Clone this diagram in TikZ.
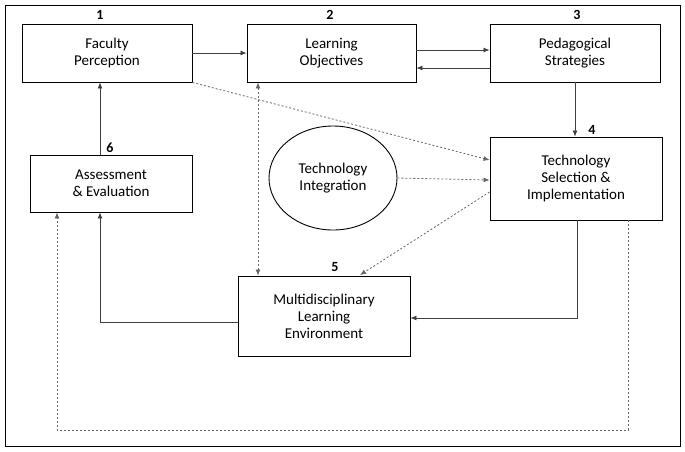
\documentclass[tikz,border=0pt]{standalone}
\usepackage{fontspec}
\setmainfont{Carlito}
\usetikzlibrary{shapes.geometric,arrows.meta}
\begin{document}
\begin{tikzpicture}[x=1pt,y=-1pt,
  box/.style={draw,line width=0.9pt,align=center,font=\fontsize{15}{17}\selectfont,inner sep=0pt},
  num/.style={font=\bfseries\fontsize{14}{16}\selectfont},
  arr/.style={-{Latex[length=6pt,width=5pt]},line width=0.8pt,draw=black!75},
  darr/.style={arr,dashed,dash pattern=on 2pt off 2pt,draw=black!60}]
\useasboundingbox (0,0) rectangle (685,451);
\draw[line width=1pt] (5,5) rectangle (680,446);
\node[box,minimum width=170pt,minimum height=58pt] (f) at (107,53) {Faculty\\Perception};
\node[box,minimum width=169pt,minimum height=58pt] (l) at (331.5,53) {Learning\\Objectives};
\node[box,minimum width=170pt,minimum height=58pt] (p) at (575,53) {Pedagogical\\Strategies};
\node[box,minimum width=172pt,minimum height=83pt] (t) at (576,178.5) {Technology\\Selection \&\\Implementation};
\node[box,minimum width=162pt,minimum height=57pt] (a) at (111,183.5) {Assessment\\\& Evaluation};
\node[box,minimum width=172pt,minimum height=80pt] (m) at (324,316) {Multidisciplinary\\Learning\\Environment};
\node[box,ellipse,minimum width=128pt,minimum height=104pt] (e) at (333,178) {Technology\\Integration};
\node[num] (n1) at (100,15) {1};
\node[num] (n2) at (330,15) {2};
\node[num] (n3) at (577,15) {3};
\node[num] (n4) at (592,130) {4};
\node[num] (n6) at (110,148) {6};
\node[num] (n5) at (335,267) {5};
\draw[arr] (f.east |- 0,53) -- (l.west |- 0,53);
\draw[arr] (l.east |- 0,50) -- (p.west |- 0,50);
\draw[arr] (p.west |- 0,68) -- (l.east |- 0,68);
\draw[arr] (p.south) -- (t.north -| p.south);
\draw[darr] (f.south east) -- (t.west |- 0,160);
\draw[darr] (e.east) -- (t.west |- 0,180);
\draw[darr] (t.west |- 0,192) -- (360,275);
\draw[darr,{Latex[length=6pt,width=5pt]}-{Latex[length=6pt,width=5pt]}] (l.south -| 258,0) -- (m.north -| 258,0);
\draw[arr] (t.south -| 577,0) |- (m.east |- 0,318);
\draw[arr] (m.west |- 0,322) -| (a.south -| 100,0);
\draw[arr] (a.north -| 100,0) -- (f.south -| 100,0);
\draw[darr] (t.south -| 628,0) |- (57,430) -- (a.south -| 57,0);
\end{tikzpicture}
\end{document}
